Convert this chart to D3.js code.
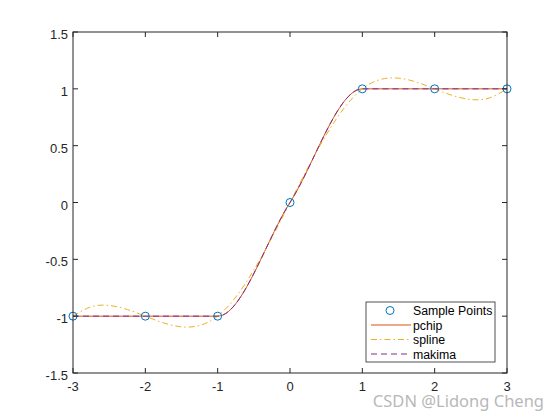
<!DOCTYPE html>
<html>
<meta charset="utf-8">
<style>
  body { margin: 0; background: #fff; }
  text { font-family: Arial, "Liberation Sans", sans-serif; }
</style>
<body>
<script src="https://d3js.org/d3.v7.min.js"></script>
<script>
  // sample points
  var sampleX = [-3, -2, -1, 0, 1, 2, 3];
  var sampleY = [-1, -1, -1, 0, 1, 1, 1];
  // spline curve, values
  var splineX = [-3, -2.75, -2.5, -2.25, -2, -1.75, -1.5, -1.25, -1, -0.75, -0.5, -0.25, 0,
                 0.25, 0.5, 0.75, 1, 1.25, 1.5, 1.75, 2, 2.25, 2.5, 2.75, 3];
  var splineY = [-1, -0.918, -0.906, -0.941, -1, -1.059, -1.094, -1.082, -1, -0.832, -0.594, -0.309, 0,
                 0.309, 0.594, 0.832, 1, 1.082, 1.094, 1.059, 1, 0.941, 0.906, 0.918, 1];
  var xTicks = [-3, -2, -1, 0, 1, 2, 3];
  var yTicks = [-1.5, -1, -0.5, 0, 0.5, 1, 1.5];
  var legendLabels = ["Sample Points", "pchip", "spline", "makima"];

  var W = 560, H = 420;
  var mLeft = 73, mRight = 507, mTop = 32, mBottom = 373;

  var svg = d3.select("body").append("svg")
      .attr("width", W).attr("height", H);

  var x = d3.scaleLinear().domain([-3, 3]).range([mLeft, mRight]);
  var y = d3.scaleLinear().domain([-1.5, 1.5]).range([mBottom, mTop]);

  var pts = sampleX.map((d, i) => [d, sampleY[i]]);
  var spl = splineX.map((d, i) => [d, splineY[i]]);

  var plot = svg.append("g");

  // pchip (monotone cubic through samples)
  var mono = d3.line().x(d => x(d[0])).y(d => y(d[1])).curve(d3.curveMonotoneX);
  var nat = d3.line().x(d => x(d[0])).y(d => y(d[1])).curve(d3.curveNatural);

  plot.append("path").attr("d", mono(pts))
    .attr("fill", "none").attr("stroke", "#D95319").attr("stroke-width", 1);
  plot.append("path").attr("d", nat(spl))
    .attr("fill", "none").attr("stroke", "#EDB120").attr("stroke-width", 1)
    .attr("stroke-dasharray", "6,3,1.5,3");
  // makima
  plot.append("path").attr("d", mono(pts))
    .attr("fill", "none").attr("stroke", "#7E2F8E").attr("stroke-width", 1)
    .attr("stroke-dasharray", "6,4");

  plot.selectAll("circle").data(pts).join("circle")
    .attr("cx", d => x(d[0])).attr("cy", d => y(d[1])).attr("r", 4)
    .attr("fill", "none").attr("stroke", "#0072BD").attr("stroke-width", 1);

  // axes box
  var axes = svg.append("g");
  axes.append("rect").attr("x", mLeft).attr("y", mTop)
    .attr("width", mRight - mLeft).attr("height", mBottom - mTop)
    .attr("fill", "none").attr("stroke", "#262626").attr("stroke-width", 1);

  var tl = 5;
  xTicks.forEach(function(t) {
    axes.append("line").attr("x1", x(t)).attr("x2", x(t)).attr("y1", mBottom).attr("y2", mBottom - tl).attr("stroke", "#262626");
    axes.append("line").attr("x1", x(t)).attr("x2", x(t)).attr("y1", mTop).attr("y2", mTop + tl).attr("stroke", "#262626");
    axes.append("text").attr("x", x(t)).attr("y", mBottom + 18).attr("text-anchor", "middle")
      .attr("font-size", 13).attr("fill", "#262626").text(t);
  });
  yTicks.forEach(function(t) {
    axes.append("line").attr("x1", mLeft).attr("x2", mLeft + tl).attr("y1", y(t)).attr("y2", y(t)).attr("stroke", "#262626");
    axes.append("line").attr("x1", mRight).attr("x2", mRight - tl).attr("y1", y(t)).attr("y2", y(t)).attr("stroke", "#262626");
    axes.append("text").attr("x", mLeft - 5).attr("y", y(t) + 7).attr("text-anchor", "end")
      .attr("font-size", 13).attr("fill", "#262626").text(t);
  });

  // legend
  var lg = svg.append("g").attr("transform", "translate(366,302)");
  lg.append("rect").attr("width", 129).attr("height", 60)
    .attr("fill", "#fff").attr("stroke", "#262626").attr("stroke-width", 0.8);
  var rowY = [8.5, 23, 37.5, 52];
  lg.append("circle").attr("cx", 24).attr("cy", rowY[0]).attr("r", 4)
    .attr("fill", "none").attr("stroke", "#0072BD");
  lg.append("line").attr("x1", 5).attr("x2", 45).attr("y1", rowY[1]).attr("y2", rowY[1])
    .attr("stroke", "#D95319");
  lg.append("line").attr("x1", 5).attr("x2", 45).attr("y1", rowY[2]).attr("y2", rowY[2])
    .attr("stroke", "#EDB120").attr("stroke-dasharray", "6,3,1.5,3");
  lg.append("line").attr("x1", 5).attr("x2", 45).attr("y1", rowY[3]).attr("y2", rowY[3])
    .attr("stroke", "#7E2F8E").attr("stroke-dasharray", "6,4");
  legendLabels.forEach(function(s, i) {
    lg.append("text").attr("x", 47).attr("y", rowY[i] + 4.5)
      .attr("font-size", 12.3).attr("fill", "#000").text(s);
  });

  // watermark (sits just under the last tick labels, as in the source image)
  svg.append("text").attr("x", 544).attr("y", 407).attr("text-anchor", "end")
    .attr("font-size", 16.5).attr("fill", "#b8b8b8").style("font-family", "'Noto Sans', sans-serif")
    .text("CSDN @Lidong Cheng");
</script>
</body>
</html>
